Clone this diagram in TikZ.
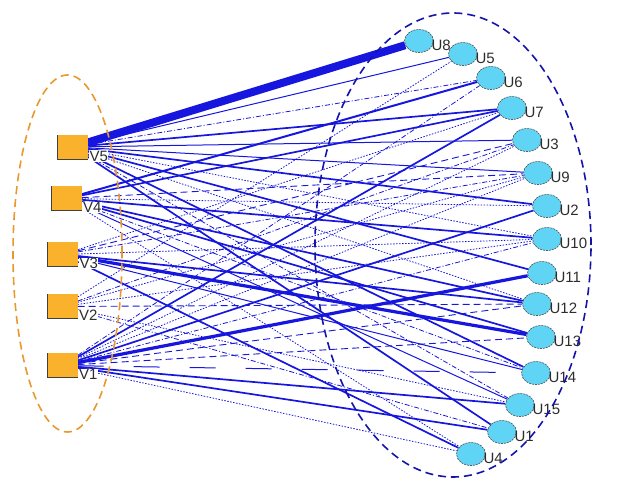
\documentclass[tikz,border=0pt]{standalone}
\usepackage{fontspec}
\setmainfont{Liberation Sans}
\usetikzlibrary{backgrounds,shapes.geometric}
\definecolor{eb}{RGB}{22,22,222}
\definecolor{vor}{RGB}{250,178,45}
\definecolor{ucy}{RGB}{95,212,245}
\definecolor{ornd}{RGB}{232,152,45}
\definecolor{nav}{RGB}{20,20,170}
\definecolor{txt}{RGB}{45,45,45}
\begin{document}
\begin{tikzpicture}[x=1pt,y=-1pt,
 vbox/.style={rectangle, fill=vor, minimum width=30pt, minimum height=24pt, inner sep=0pt},
 vedge/.style={draw=black!75, line width=0.8pt},
 unode/.style={ellipse, fill=ucy, draw=black!70, dash pattern=on 2pt off 1pt, line width=0.6pt, minimum width=29pt, minimum height=23pt, inner sep=0pt},
 lbl/.style={font=\fontsize{15}{16}\selectfont, text=txt, inner sep=0pt, anchor=base west},
 vlbl/.style={lbl, fill=white, inner sep=0.6pt},
 edgeb/.style={draw=eb},
 hugeline/.style={edgeb, line width=8pt},
 thk/.style={edgeb, line width=3.2pt},
 med/.style={edgeb, line width=1.7pt},
 thn/.style={edgeb, line width=1pt},
 dsh/.style={edgeb, line width=0.9pt, dash pattern=on 7pt off 4pt},
 dd/.style={edgeb, line width=0.8pt, dash pattern=on 5pt off 2pt on 1pt off 2pt},
 dt/.style={edgeb, line width=0.8pt, dash pattern=on 1.5pt off 1.5pt},
 ld/.style={edgeb, line width=1pt, dash pattern=on 26pt off 30pt},
]
\useasboundingbox (0,0) rectangle (638,478);

% left nodes
\node[vbox] (V5) at (73,147) {};
\node[vbox] (V4) at (66.5,198.5) {};
\node[vbox] (V3) at (63,254.5) {};
\node[vbox] (V2) at (62.5,306.5) {};
\node[vbox] (V1) at (62.5,365.5) {};
\foreach \v in {V5,V4,V3,V2,V1}{
  \draw[vedge] (\v.north west) -- (\v.south west) -- (\v.south east);
  \node[vlbl, xshift=0.5pt, yshift=-2pt] (l\v) at (\v.south east) {\v};
}

% right nodes
\node[unode] (U8) at (419,41) {};
\node[unode] (U5) at (463,54) {};
\node[unode] (U6) at (491,78) {};
\node[unode] (U7) at (512,108) {};
\node[unode] (U3) at (527,140) {};
\node[unode] (U9) at (538,173) {};
\node[unode] (U2) at (547,206) {};
\node[unode] (U10) at (547,239) {};
\node[unode] (U11) at (542,273) {};
\node[unode] (U12) at (537,304) {};
\node[unode] (U13) at (541,337) {};
\node[unode] (U14) at (536,373) {};
\node[unode] (U15) at (520,405) {};
\node[unode] (U1) at (502,432) {};
\node[unode] (U4) at (471,454) {};
\foreach \u in {U8,U5,U6,U7,U3,U9,U2,U10,U11,U12,U13,U14,U15,U1,U4}{
  \node[lbl, xshift=2pt, yshift=-1.5pt] (l\u) at (\u.south east) {\u};
}

\begin{pgfonlayer}{background}
% V5
\path[hugeline] (V5) -- (U8);
\path[thn] (V5) -- (U5);
\path[dd] (V5) -- (U6);
\path[med] (V5) -- (U7);
\path[thn] (V5) -- (U3);
\path[thn] (V5) -- (U9);
\path[med] (V5) -- (U2);
\path[dt] (V5) -- (U10);
\path[med] (V5) -- (U11);
\path[dt] (V5) -- (U12);
\path[med] (V5) -- (U14);
\path[dd] (V5) -- (U15);
\path[med] (V5) -- (U1);
% V4
\path[med, line width=2pt] (V4) -- (U6);
\path[med] (V4) -- (U7);
\path[dsh] (V4) -- (U9);
\path[dt] (V4) -- (U2);
\path[med] (V4) -- (U10);
\path[med] (V4) -- (U12);
\path[med] (V4) -- (U13);
\path[thn] (V4) -- (U15);
\path[dd] (V4) -- (U14);
\path[dt] (V4) -- (U4);
% V3
\path[thk] (V3) -- (U13);
\path[med] (V3) -- (U12);
\path[med] (V3) -- (U4);
\path[thn] (V3) -- (U14);
\path[dd] (V3) -- (U9);
\path[dsh] (V3) -- (U3);
\path[dt] (V3) -- (U7);
\path[dt] (V3) -- (U10);
% V2
\path[dt] (V2) -- (U5);
\path[dt] (V2) -- (U9);
\path[dd] (V2) -- (U3);
\path[dsh] (V2) -- (U12);
\path[dd] (V2) -- (U1);
\path[dt] (V2) -- (U10);
\path[dt] (V2) -- (U15);
% V1
\path[med] (V1) -- (U7);
\path[med] (V1) -- (U2);
\path[thk] (V1) -- (U11);
\path[dt] (V1) -- (U3);
\path[dt] (V1) -- (U9);
\path[dd] (V1) -- (U10);
\path[dsh] (V1) -- (U12);
\path[dsh] (V1) -- (U13);
\path[ld] (V1) -- (U14);
\path[med] (V1) -- (U15);
\path[med] (V1) -- (U1);
\path[dt] (V1) -- (U4);
\path[dd] (V1) -- (U6);
\end{pgfonlayer}

% group ellipses
\draw[ornd, line width=1.6pt, dash pattern=on 8pt off 5pt] (67.5,253.5) ellipse [x radius=54.5pt, y radius=178.5pt];
\draw[nav, line width=1.6pt, dash pattern=on 8pt off 5pt] (453,245) ellipse [x radius=138pt, y radius=232pt];
\end{tikzpicture}
\end{document}
